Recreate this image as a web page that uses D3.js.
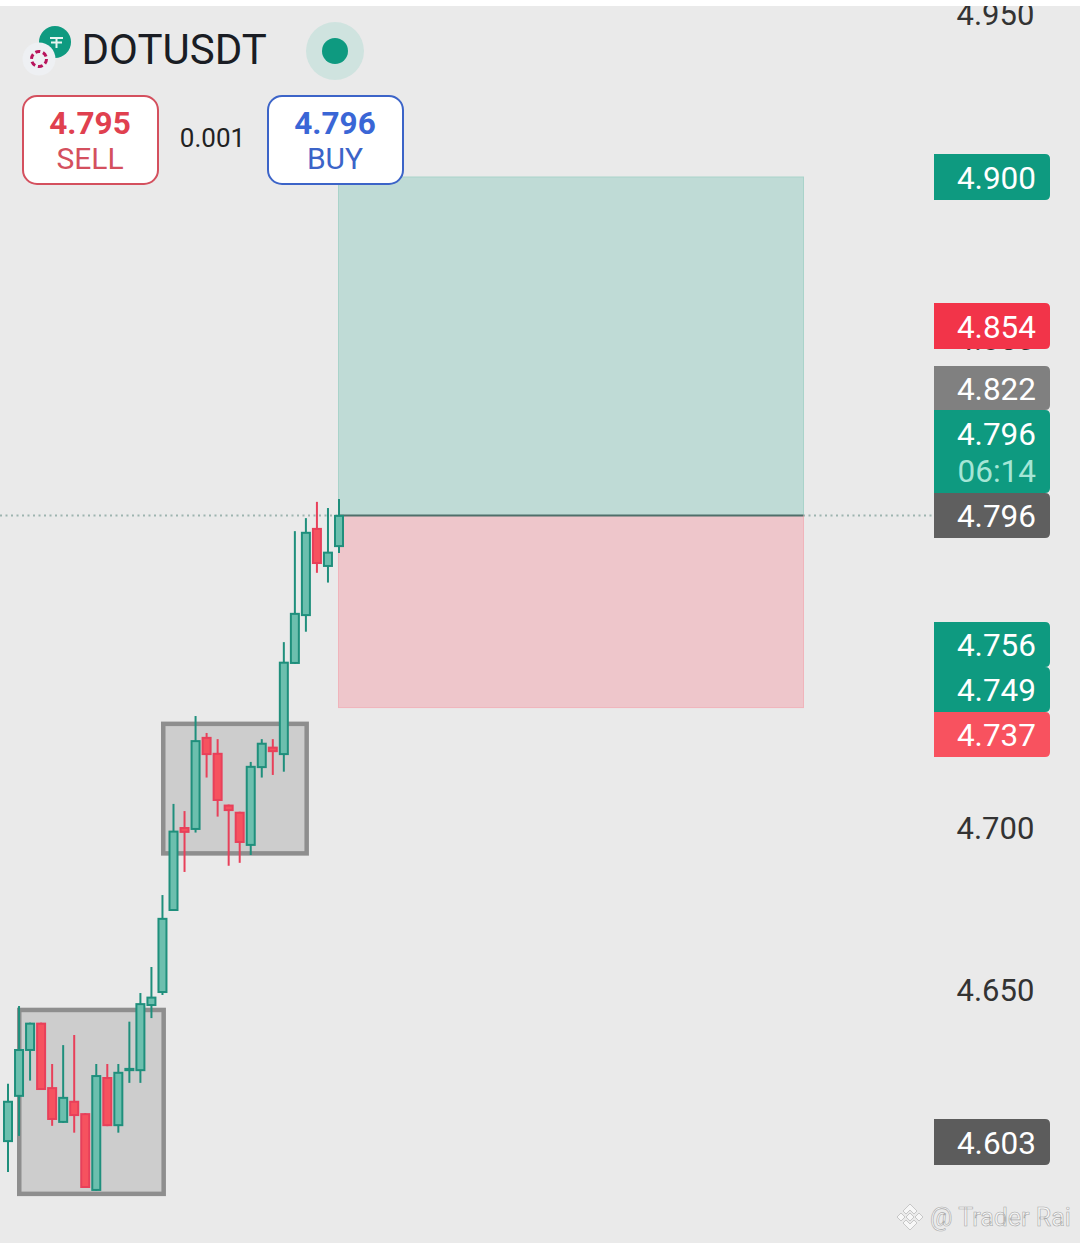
<!DOCTYPE html>
<html>
<head>
<meta charset="utf-8">
<script src="https://cdn.jsdelivr.net/npm/d3@7/dist/d3.min.js"></script>
<style>
    html, body { margin: 0; padding: 0; background: #fff; }
    svg { display: block; }
    text { font-family: Roboto, sans-serif; }
</style>
</head>
<body>
<div id="chart"></div>
<script>
// candles, oldest first
var opens  = [4.6035,4.6174,4.6315,4.6402,4.6204,4.6094,4.6162,4.6124,4.5885,4.6235,4.6084,4.6253,4.6253,4.6453,4.6493,4.6745,4.7003,4.6994,4.7280,4.7231,4.7072,4.7050,4.6945,4.7184,4.7250,4.7224,4.7504,4.7651,4.7922,4.7802,4.7863];
var closes = [4.6162,4.6321,4.6402,4.6195,4.6103,4.6174,4.6115,4.5894,4.6241,4.6084,4.6251,4.6263,4.6462,4.6482,4.6724,4.6992,4.6985,4.7270,4.7224,4.7083,4.7052,4.6954,4.7191,4.7262,4.7233,4.7511,4.7661,4.7910,4.7811,4.7849,4.7962];
var highs  = [4.6214,4.6453,4.6402,4.6402,4.6275,4.6333,4.6364,4.6124,4.6275,4.6275,4.6275,4.6405,4.6493,4.6573,4.6794,4.7074,4.7052,4.7344,4.7292,4.7273,4.7072,4.7050,4.7203,4.7273,4.7273,4.7571,4.7912,4.7952,4.8002,4.7983,4.8011];
var lows   = [4.5943,4.6054,4.6224,4.6195,4.6085,4.6094,4.6064,4.5894,4.5885,4.6084,4.6064,4.6217,4.6217,4.6416,4.6487,4.6745,4.6865,4.6986,4.7155,4.7035,4.6884,4.6893,4.6917,4.7155,4.7163,4.7173,4.7504,4.7603,4.7784,4.7754,4.7845];

var axisTicks = [4.65, 4.70, 4.75, 4.80, 4.85, 4.90, 4.95];

var entryPrice = 4.796;
var targetPrice = 4.900;
var stopPrice = 4.737;

// consolidation zones, in candle index and price
var zoneStart = [1.02, 14.07];
var zoneEnd = [14.11, 27.07];
var zoneTop = [4.6441, 4.7320];
var zoneBottom = [4.5876, 4.6922];

var tagPrices = ["4.900", "4.854", "4.822", "4.796", "4.796", "4.756", "4.749", "4.737", "4.603"];
var tagNotes = ["", "", "", "06:14", "", "", "", "", ""];
var tagColors = ["#0e9a80", "#f23449", "#808080", "#0e9a80", "#5f5f5f", "#0e9a80", "#0e9a80", "#f8525f", "#5c5c5c"];
var tagTops = [154, 303, 366, 410, 493, 622, 667, 712, 1119];
var tagHeights = [46, 46, 44, 83, 45, 45, 45, 45, 46];

var width = 1080, height = 1243;

var x = d3.scaleLinear().domain([0, 30]).range([8, 339]);
var y = d3.scaleLinear().domain([4.70, 4.90]).range([828, 177]);

var svg = d3.select("#chart").append("svg")
    .attr("width", width)
    .attr("height", height);

svg.append("rect")
    .attr("y", 6)
    .attr("width", width)
    .attr("height", height - 6)
    .attr("fill", "#eaeaea");

// price axis sits under the tags, that is why 4.850 only just peeks out
var axis = svg.append("g")
    .attr("transform", "translate(956.5,-1)")
    .call(d3.axisRight(y).tickValues(axisTicks).tickSize(0).tickPadding(0).tickFormat(d3.format(".3f")));
axis.select(".domain").remove();
axis.selectAll("text")
    .attr("font-size", 31)
    .attr("dy", "0.36em")
    .style("font-family", "Roboto, sans-serif")
    .attr("fill", "#333");

// dotted last price line
svg.append("line")
    .attr("x1", 0)
    .attr("x2", 934)
    .attr("y1", y(entryPrice))
    .attr("y2", y(entryPrice))
    .attr("stroke", "#9db4af")
    .attr("stroke-width", 2)
    .attr("stroke-dasharray", "2,3.5");

// long position box
var boxX = 338.5, boxW = 465;
svg.append("rect")
    .attr("x", boxX)
    .attr("y", y(targetPrice))
    .attr("width", boxW)
    .attr("height", y(entryPrice) - y(targetPrice))
    .attr("fill", "#bfdbd6")
    .attr("stroke", "#a9d3ca")
    .attr("stroke-width", 1);
svg.append("rect")
    .attr("x", boxX)
    .attr("y", y(entryPrice))
    .attr("width", boxW)
    .attr("height", y(stopPrice) - y(entryPrice))
    .attr("fill", "#eec6cb")
    .attr("stroke", "#f0b4bb")
    .attr("stroke-width", 1);
svg.append("line")
    .attr("x1", boxX)
    .attr("x2", boxX + boxW)
    .attr("y1", y(entryPrice))
    .attr("y2", y(entryPrice))
    .attr("stroke", "#4f6f6a")
    .attr("stroke-width", 2);

// grey consolidation zones
svg.append("g").selectAll("rect")
    .data(d3.range(zoneStart.length))
    .enter()
    .append("rect")
    .attr("x", function(d){ return x(zoneStart[d]) })
    .attr("y", function(d){ return y(zoneTop[d]) })
    .attr("width", function(d){ return x(zoneEnd[d]) - x(zoneStart[d]) })
    .attr("height", function(d){ return y(zoneBottom[d]) - y(zoneTop[d]) })
    .attr("fill", "#cdcdcd")
    .attr("stroke", "#8e8e8e")
    .attr("stroke-width", 4.5);

// candles
var candles = svg.append("g").selectAll("g")
    .data(d3.range(opens.length))
    .enter()
    .append("g");

function isUp(i) { return closes[i] >= opens[i] }

candles.append("line")
    .attr("x1", function(d){ return x(d) })
    .attr("x2", function(d){ return x(d) })
    .attr("y1", function(d){ return y(highs[d]) })
    .attr("y2", function(d){ return y(lows[d]) })
    .attr("stroke", function(d){ return isUp(d) ? "#1f8f7c" : "#e8405a" })
    .attr("stroke-width", 2);

candles.append("rect")
    .attr("x", function(d){ return x(d) - 4 })
    .attr("y", function(d){ return y(Math.max(opens[d], closes[d])) + 1 })
    .attr("width", 8)
    .attr("height", function(d){ return Math.max(1, Math.abs(y(opens[d]) - y(closes[d])) - 2) })
    .attr("fill", function(d){ return isUp(d) ? "#6cbfae" : "#f6525f" })
    .attr("stroke", function(d){ return isUp(d) ? "#1f8f7c" : "#e8405a" })
    .attr("stroke-width", 2);

// price tags on the right, square left side and small radius on the right
var tagX = 934, tagW = 116, tagR = 5;
var tags = svg.append("g").selectAll("g")
    .data(d3.range(tagPrices.length))
    .enter()
    .append("g");

tags.append("path")
    .attr("d", function(d){
        var t = tagTops[d], h = tagHeights[d];
        return "M" + tagX + "," + t + "H" + (tagX + tagW - tagR) +
            "Q" + (tagX + tagW) + "," + t + " " + (tagX + tagW) + "," + (t + tagR) +
            "V" + (t + h - tagR) +
            "Q" + (tagX + tagW) + "," + (t + h) + " " + (tagX + tagW - tagR) + "," + (t + h) +
            "H" + tagX + "Z";
    })
    .attr("fill", function(d){ return tagColors[d] });

tags.append("text")
    .attr("x", 1036)
    .attr("y", function(d){ return tagTops[d] + (tagNotes[d] ? 24 : tagHeights[d] / 2 + 0.5) })
    .attr("dy", "0.36em")
    .attr("text-anchor", "end")
    .attr("font-size", 31.5)
    .attr("fill", "#fff")
    .text(function(d){ return tagPrices[d] });

tags.append("text")
    .attr("x", 1036)
    .attr("y", function(d){ return tagTops[d] + 61 })
    .attr("dy", "0.36em")
    .attr("text-anchor", "end")
    .attr("font-size", 31.5)
    .attr("fill", "#a5e6d6")
    .text(function(d){ return tagNotes[d] });

// header: pair icons, symbol and status dot
svg.append("circle").attr("cx", 55).attr("cy", 42).attr("r", 16).attr("fill", "#0e9a80");
svg.append("path")
    .attr("d", "M50,38H63M56.5,38V48M51,42.5H62")
    .attr("stroke", "#e8f5f1")
    .attr("stroke-width", 2)
    .attr("fill", "none");
svg.append("circle").attr("cx", 39).attr("cy", 59).attr("r", 16.5).attr("fill", "#eef0f3");
svg.append("circle")
    .attr("cx", 39)
    .attr("cy", 59)
    .attr("r", 7.5)
    .attr("fill", "none")
    .attr("stroke", "#b8145c")
    .attr("stroke-width", 3)
    .attr("stroke-dasharray", "5,2.85");

svg.append("text")
    .attr("x", 81.5)
    .attr("y", 64)
    .attr("font-size", 42)
    .attr("fill", "#1a1d24")
    .text("DOTUSDT");

svg.append("circle").attr("cx", 335).attr("cy", 51).attr("r", 29).attr("fill", "#cfe3df");
svg.append("circle").attr("cx", 335).attr("cy", 51).attr("r", 13).attr("fill", "#0e9a80");

// sell and buy buttons
function tradeButton(bx, stroke, color, price, label) {
    svg.append("rect")
        .attr("x", bx)
        .attr("y", 96)
        .attr("width", 135)
        .attr("height", 88)
        .attr("rx", 14)
        .attr("fill", "#fff")
        .attr("stroke", stroke)
        .attr("stroke-width", 2);
    svg.append("text")
        .attr("x", bx + 67)
        .attr("y", 134)
        .attr("text-anchor", "middle")
        .attr("font-size", 31.5)
        .attr("font-weight", 700)
        .attr("fill", color)
        .text(price);
    svg.append("text")
        .attr("x", bx + 67)
        .attr("y", 169)
        .attr("text-anchor", "middle")
        .attr("font-size", 30)
        .attr("fill", stroke)
        .text(label);
}
tradeButton(23, "#d4505e", "#e0404f", "4.795", "SELL");
tradeButton(268, "#3c64c8", "#3a66d6", "4.796", "BUY");

svg.append("text")
    .attr("x", 212.5)
    .attr("y", 147)
    .attr("text-anchor", "middle")
    .attr("font-size", 26)
    .attr("fill", "#222")
    .text("0.001");

// watermark
var mark = svg.append("g")
    .attr("fill", "#f7f7f7")
    .attr("stroke", "#bdbdbd")
    .attr("stroke-width", 0.8);
mark.append("path")
    .attr("d", "M910,1204l7,7-3,3-4,-4-4,4-3,-3zM910,1230l-7,-7 3,-3 4,4 4,-4 3,3zM910,1213l4,4-4,4-4,-4zM901,1213l4,4-4,4-4,-4zM919,1213l4,4-4,4-4,-4z");
svg.append("text")
    .attr("x", 930)
    .attr("y", 1226)
    .attr("font-size", 25)
    .attr("fill", "#f7f7f7")
    .attr("stroke", "#a8a8a8")
    .attr("stroke-width", 0.6)
    .text("@ Trader Rai");

// white strip along the top of the screenshot cuts 4.950
svg.append("rect")
    .attr("width", width)
    .attr("height", 6)
    .attr("fill", "#fff");
</script>
</body>
</html>
